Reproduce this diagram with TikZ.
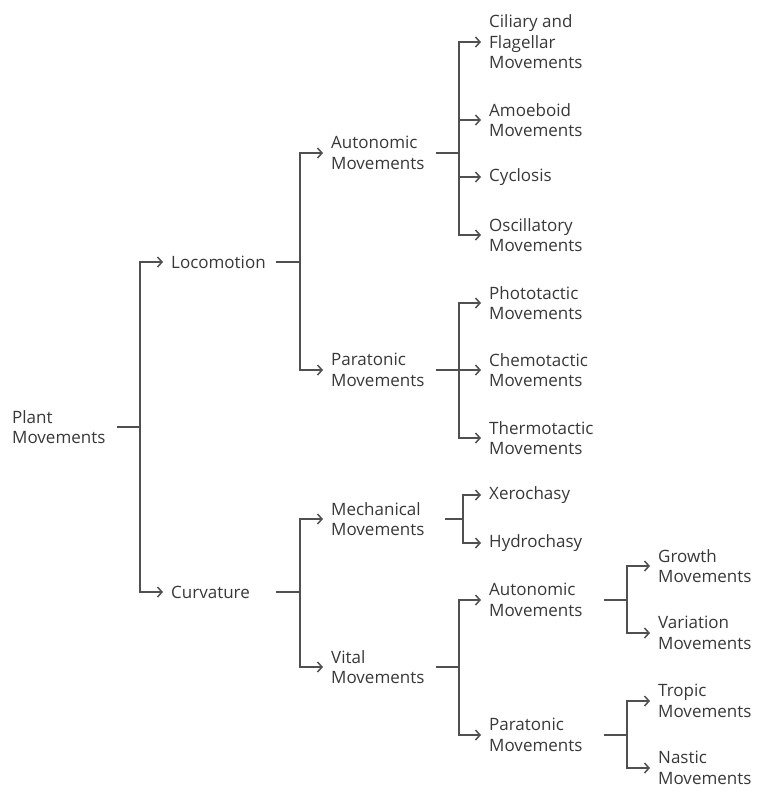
\documentclass[tikz,border=0pt]{standalone}
\usepackage{fontspec}
\setmainfont{Open Sans}
\usetikzlibrary{arrows.meta}
\definecolor{txt}{HTML}{383838}
\definecolor{ln}{HTML}{505050}
\tikzset{
  lbl/.style={anchor=west, align=left, inner xsep=8pt, inner ysep=2pt, text=txt,
    font=\fontsize{17}{20.5}\selectfont},
  conn/.style={draw=ln, line width=1.6pt},
  arr/.style={conn, -{Straight Barb[length=4.5pt,width=10pt,line width=1.5pt]}}
}
\begin{document}
\begin{tikzpicture}[x=1pt,y=-1pt]
\useasboundingbox (0,0) rectangle (768,798);
% columns of junctions
\coordinate (c1) at (140,0);
\coordinate (c2) at (300,0);
\coordinate (c3) at (459,0);
\coordinate (c3b) at (463,0);
\coordinate (c4) at (627,0);
% nodes
\node[lbl, text width=97pt] (pm) at (4,427) {Plant\\Movements};
\node[lbl, text width=97pt] (loc) at (163,262) {Locomotion};
\node[lbl, text width=97pt] (cur) at (163,592) {Curvature};
\node[lbl, text width=97pt] (aut1) at (323,153) {Autonomic\\Movements};
\node[lbl, text width=97pt] (par1) at (323,370) {Paratonic\\Movements};
\node[lbl, text width=106pt] (mech) at (323,519) {Mechanical\\Movements};
\node[lbl, text width=97pt] (vit) at (323,667) {Vital\\Movements};
\node[lbl] (cil) at (481,42) {Ciliary and\\Flagellar\\Movements};
\node[lbl] (amo) at (481,120) {Amoeboid\\Movements};
\node[lbl] (cyc) at (481,177) {Cyclosis};
\node[lbl] (osc) at (481,235) {Oscillatory\\Movements};
\node[lbl] (pho) at (481,303) {Phototactic\\Movements};
\node[lbl] (che) at (481,370) {Chemotactic\\Movements};
\node[lbl] (the) at (481,438) {Thermotactic\\Movements};
\node[lbl] (xer) at (481,495) {Xerochasy};
\node[lbl] (hyd) at (481,543) {Hydrochasy};
\node[lbl, text width=107pt] (aut2) at (481,600) {Autonomic\\Movements};
\node[lbl, text width=107pt] (par2) at (481,735) {Paratonic\\Movements};
\node[lbl] (gro) at (650,566) {Growth\\Movements};
\node[lbl] (var) at (650,633) {Variation\\Movements};
\node[lbl] (tro) at (650,701) {Tropic\\Movements};
\node[lbl] (nas) at (650,768) {Nastic\\Movements};
% connectors
\foreach \p/\c/\k in {pm/c1/loc, pm/c1/cur,
  loc/c2/aut1, loc/c2/par1,
  cur/c2/mech, cur/c2/vit,
  aut1/c3/cil, aut1/c3/amo, aut1/c3/cyc, aut1/c3/osc,
  par1/c3/pho, par1/c3/che, par1/c3/the,
  mech/c3b/xer, mech/c3b/hyd,
  vit/c3/aut2, vit/c3/par2,
  aut2/c4/gro, aut2/c4/var,
  par2/c4/tro, par2/c4/nas}
  \draw[arr] (\p.east) -- (\p.east -| \c) |- (\k.west);
\end{tikzpicture}
\end{document}
